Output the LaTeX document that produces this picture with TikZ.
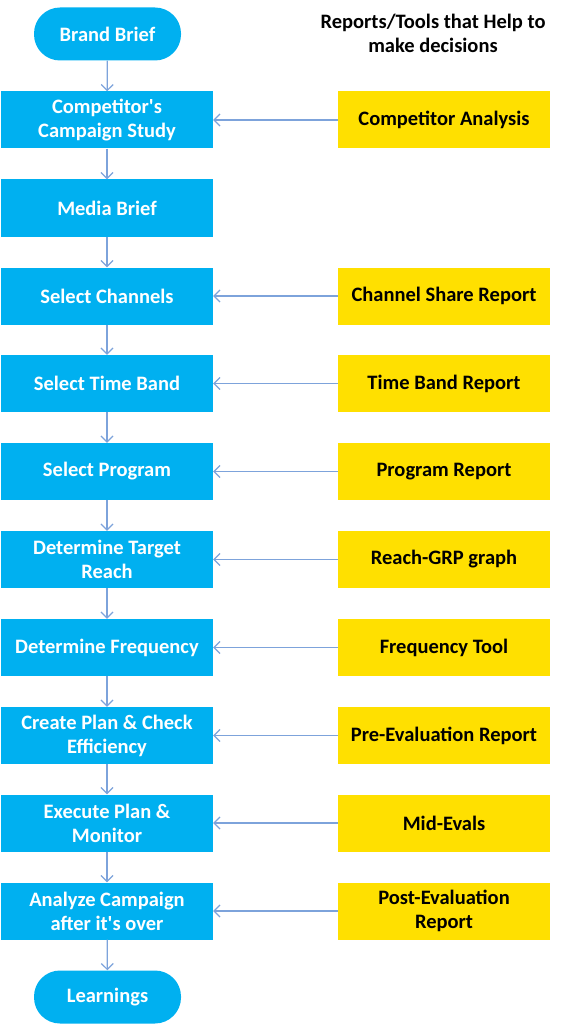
\documentclass[tikz,border=0pt]{standalone}
\usepackage{fontspec}
\setmainfont{Carlito}
\usetikzlibrary{arrows.meta,positioning}
\definecolor{stepblue}{HTML}{00B0F0}
\definecolor{toolyellow}{HTML}{FFE000}
\definecolor{linkblue}{HTML}{7DA3DB}
\tikzset{%
	terminal/.style = {fill=stepblue, rounded corners=26pt, minimum width=147pt, minimum height=53pt, text=white, font=\bfseries\fontsize{20.5}{24}\selectfont, align=center},
	stepbox/.style  = {fill=stepblue, minimum width=212pt, minimum height=57pt, text=white, font=\bfseries\fontsize{20.5}{24}\selectfont, align=center},
	toolbox/.style  = {fill=toolyellow, minimum width=212pt, minimum height=57pt, text=black, font=\bfseries\fontsize{20.5}{24}\selectfont, align=center},
	link/.style     = {linkblue, line width=1.2pt, -{Straight Barb[length=6pt,width=12pt]}},
}
\begin{document}
\begin{tikzpicture}[x=1pt,y=-1pt]
	\useasboundingbox (0,0) rectangle (571,1024);
	% process column
	\node[terminal] (brief) at (107.5,34) {Brand Brief};
	\node[stepbox] (study) at (107,120) {Competitor\textquotesingle s\\Campaign Study};
	\node[stepbox] (mbrief) at (107,208) {Media Brief};
	\node[stepbox] (channels) at (107,296) {Select Channels};
	\node[stepbox] (timeband) at (107,383.5) {Select Time Band};
	\node[stepbox] (program) at (107,471.5) {Select Program};
	\node[stepbox] (reach) at (107,559.5) {Determine Target\\Reach};
	\node[stepbox] (freq) at (107,647.5) {Determine Frequency};
	\node[stepbox] (plan) at (107,735.5) {Create Plan \& Check\\Efficiency};
	\node[stepbox] (exec) at (107,823) {Execute Plan \&\\Monitor};
	\node[stepbox] (analyze) at (107,911) {Analyze Campaign\\after it\textquotesingle s over};
	\node[terminal] (learn) at (107.5,997) {Learnings};
	% reports and tools
	\node[font=\bfseries\fontsize{20.5}{24}\selectfont, align=center] (title) at (433,33) {Reports/Tools that Help to\\make decisions};
	\node[toolbox] (compan) at (444,120) {Competitor Analysis};
	\node[toolbox] (chanrep) at (444,296) {Channel Share Report};
	\node[toolbox] (timerep) at (444,383.5) {Time Band Report};
	\node[toolbox] (progrep) at (444,471.5) {Program Report};
	\node[toolbox] (grp) at (444,559.5) {Reach-GRP graph};
	\node[toolbox] (freqtool) at (444,647.5) {Frequency Tool};
	\node[toolbox] (prerep) at (444,735.5) {Pre-Evaluation Report};
	\node[toolbox] (mideval) at (444,823) {Mid-Evals};
	\node[toolbox] (postrep) at (444,911) {Post-Evaluation\\Report};
	% flow
	\draw[link] (brief) -- (study);
	\draw[link] (study) -- (mbrief);
	\draw[link] (mbrief) -- (channels);
	\draw[link] (channels) -- (timeband);
	\draw[link] (timeband) -- (program);
	\draw[link] (program) -- (reach);
	\draw[link] (reach) -- (freq);
	\draw[link] (freq) -- (plan);
	\draw[link] (plan) -- (exec);
	\draw[link] (exec) -- (analyze);
	\draw[link] (analyze) -- (learn);
	% inputs
	\draw[link] (compan) -- (study);
	\draw[link] (chanrep) -- (channels);
	\draw[link] (timerep) -- (timeband);
	\draw[link] (progrep) -- (program);
	\draw[link] (grp) -- (reach);
	\draw[link] (freqtool) -- (freq);
	\draw[link] (prerep) -- (plan);
	\draw[link] (mideval) -- (exec);
	\draw[link] (postrep) -- (analyze);
\end{tikzpicture}
\end{document}
